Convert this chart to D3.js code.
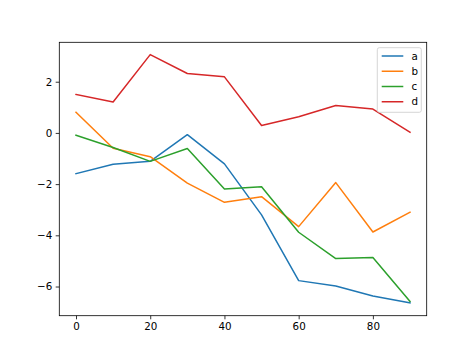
<!DOCTYPE html>
<html><head><meta charset="utf-8">
<script src="https://cdn.jsdelivr.net/npm/d3@7"></script>
<style>body{margin:0;background:#fff}svg{display:block}text{font-family:"DejaVu Sans",sans-serif;}</style>
</head><body>
<svg id="c" width="474" height="355"></svg>
<script>
const xs = [0,10,20,30,40,50,60,70,80,90];
const seriesNames = ["a","b","c","d"];
const colors = ["#1f77b4","#ff7f0e","#2ca02c","#d62728"];
const a = [-1.59,-1.22,-1.11,-0.07,-1.21,-3.20,-5.77,-5.98,-6.37,-6.64];
const b = [0.81,-0.60,-0.93,-1.96,-2.71,-2.49,-3.66,-1.94,-3.87,-3.10];
const c = [-0.09,-0.57,-1.11,-0.61,-2.19,-2.10,-3.88,-4.91,-4.87,-6.58];
const d = [1.50,1.21,3.06,2.32,2.19,0.29,0.63,1.07,0.93,0.03];
const xTicks = [0,20,40,60,80];
const yTicks = [2,0,-2,-4,-6];
const allSeries = [a,b,c,d];

const L=59.3,R=426.7,T=42.3,B=315.7;
const svg=d3.select("#c");
const x=d3.scaleLinear().domain([-4.5,94.5]).range([L,R]);
const y=d3.scaleLinear().domain([-7.14,3.54]).range([B,T]);

const line=d3.line().x((v,i)=>x(xs[i])).y(v=>y(v));
allSeries.forEach((s,k)=>{
  svg.append("path").attr("d",line(s)).attr("fill","none")
    .attr("stroke",colors[k]).attr("stroke-width",1.5).attr("stroke-linejoin","round").attr("stroke-linecap","square");
});

const xa=svg.append("g").attr("transform",`translate(0,${B})`)
  .call(d3.axisBottom(x).tickValues(xTicks).tickSize(3.6).tickPadding(3.5).tickFormat(d3.format("d")));
const ya=svg.append("g").attr("transform",`translate(${L},0)`)
  .call(d3.axisLeft(y).tickValues(yTicks).tickSize(3.6).tickPadding(3.5).tickFormat(v=>v<0?"\u2212"+Math.abs(v):String(v)));
[xa,ya].forEach(g=>{g.select(".domain").remove();g.selectAll("text").attr("font-size",10.3).attr("fill","#000").style("font-family","'DejaVu Sans',sans-serif");g.selectAll("line").attr("stroke","#000").attr("stroke-width",0.8);});

svg.append("rect").attr("x",L).attr("y",T).attr("width",R-L).attr("height",B-T)
  .attr("fill","none").attr("stroke","#000").attr("stroke-width",0.8);

const lg=svg.append("g");
lg.append("rect").attr("x",377.3).attr("y",47.7).attr("width",44).attr("height",64.6).attr("rx",2)
  .attr("fill","#fff").attr("fill-opacity",0.8).attr("stroke","#ccc").attr("stroke-width",0.8);
seriesNames.forEach((n,k)=>{
  const yy=56+k*15.25;
  lg.append("line").attr("x1",381.7).attr("x2",403.3).attr("y1",yy).attr("y2",yy).attr("stroke",colors[k]).attr("stroke-width",1.5);
  lg.append("text").attr("x",411.5).attr("y",yy).attr("dy","0.35em").attr("font-size",10.3).attr("fill","#000").text(n);
});
</script>
</body></html>
